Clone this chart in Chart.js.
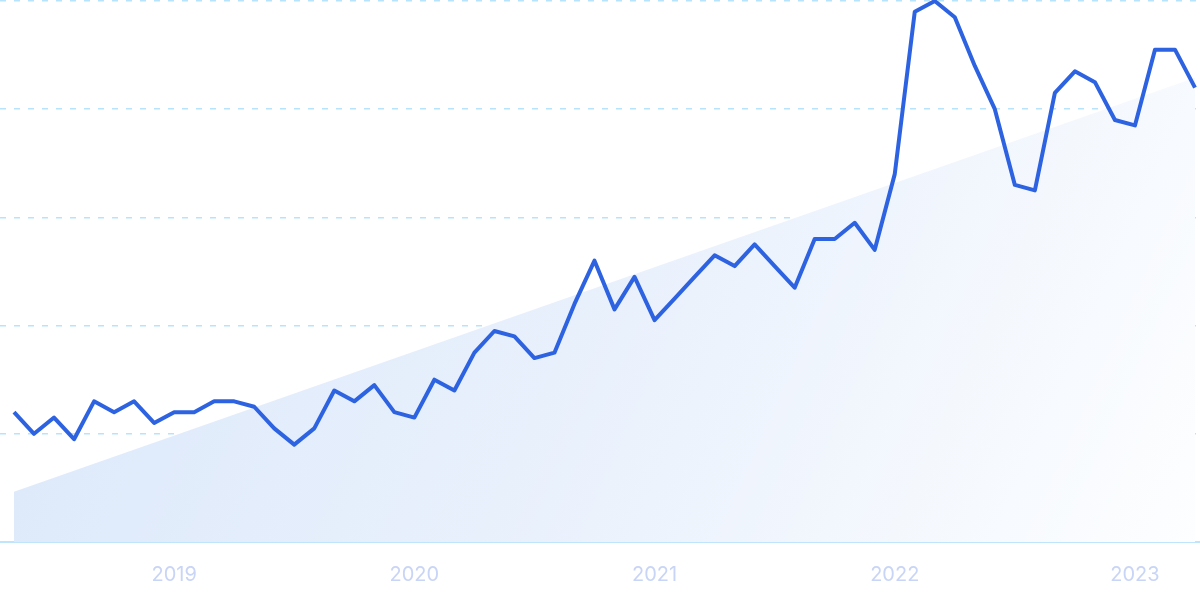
<!DOCTYPE html>
<html>
<head>
<meta charset="utf-8">
<script src="https://cdn.jsdelivr.net/npm/chart.js@4/dist/chart.umd.min.js"></script>
<style>
  html, body { margin: 0; padding: 0; background: #fff; }
  #wrap { width: 1200px; height: 600px; position: relative; }
</style>
</head>
<body>
<div id="wrap"><canvas id="grafico"></canvas></div>
<script>
// months May 2018 .. Apr 2023
const meses = [
  '2018-05','2018-06','2018-07','2018-08','2018-09','2018-10','2018-11','2018-12',
  '2019-01','2019-02','2019-03','2019-04','2019-05','2019-06','2019-07','2019-08','2019-09','2019-10','2019-11','2019-12',
  '2020-01','2020-02','2020-03','2020-04','2020-05','2020-06','2020-07','2020-08','2020-09','2020-10','2020-11','2020-12',
  '2021-01','2021-02','2021-03','2021-04','2021-05','2021-06','2021-07','2021-08','2021-09','2021-10','2021-11','2021-12',
  '2022-01','2022-02','2022-03','2022-04','2022-05','2022-06','2022-07','2022-08','2022-09','2022-10','2022-11','2022-12',
  '2023-01','2023-02','2023-03','2023-04'
];

const interesse = [
  24, 20, 23, 19, 26, 24, 26, 22,
  24, 24, 26, 26, 25, 21, 18, 21, 28, 26, 29, 24, 23, 30,
  28, 35, 39, 38, 34, 35, 44, 52, 43, 49, 41, 45,
  49, 53, 51, 55, 51, 47, 56, 56, 59, 54,
  68, 98, 100, 97, 88, 80, 66, 65, 83, 87, 85, 78,
  77, 91, 91, 84
];

// trend line: first and last month only
const tendenciaInicio = 9.3;
const tendenciaFim = 85.8;

const anosLabels = ['2019', '2020', '2021', '2022', '2023'];

const anoIdx = anosLabels.map(a => meses.indexOf(a + '-01'));

const pontos = interesse.map((v, i) => ({ x: i, y: v }));
const tendencia = [
  { x: 0, y: tendenciaInicio },
  { x: meses.length - 1, y: tendenciaFim }
];

function gradiente(context) {
  const chart = context.chart;
  const area = chart.chartArea;
  if (!area) return 'rgba(221,233,250,1)';
  const g = chart.ctx.createLinearGradient(area.left, area.top, area.right, area.bottom);
  g.addColorStop(0, '#d9e7fa');
  g.addColorStop(0.5, '#e8f0fc');
  g.addColorStop(1, '#fdfeff');
  return g;
}

const ctx = document.getElementById('grafico').getContext('2d');
new Chart(ctx, {
  type: 'line',
  data: {
    datasets: [
      {
        label: 'Interesse',
        data: pontos,
        borderColor: '#2d62e1',
        borderWidth: 4,
        borderJoinStyle: 'round',
        pointRadius: 0,
        tension: 0,
        fill: false,
        clip: false,
        order: 1
      },
      {
        label: 'Tendência',
        data: tendencia,
        borderWidth: 0,
        borderColor: 'rgba(0,0,0,0)',
        backgroundColor: gradiente,
        pointRadius: 0,
        fill: 'origin',
        order: 2
      }
    ]
  },
  options: {
    responsive: true,
    maintainAspectRatio: false,
    animation: false,
    layout: { padding: { top: 1, bottom: 0, left: 0, right: 0 } },
    plugins: {
      legend: { display: false },
      tooltip: { enabled: false }
    },
    scales: {
      x: {
        type: 'linear',
        min: -0.7,
        max: 59.25,
        afterBuildTicks: axis => {
          axis.ticks = anoIdx.map(v => ({ value: v }));
        },
        afterFit: axis => { axis.height = 58; },
        ticks: {
          autoSkip: false,
          maxRotation: 0,
          padding: 21,
          color: '#c9d5f6',
          font: { family: 'Inter', size: 20 },
          callback: v => meses[v] ? meses[v].slice(0, 4) : ''
        },
        grid: { display: false, drawTicks: false },
        border: { display: true, color: '#bfe5fc', width: 2 }
      },
      y: {
        min: 0,
        max: 100,
        ticks: { display: false, stepSize: 20 },
        grid: { color: '#b8e3fc', lineWidth: 1.5, drawTicks: false },
        border: { display: false, dash: [6, 8] }
      }
    }
  }
});
</script>
</body>
</html>
